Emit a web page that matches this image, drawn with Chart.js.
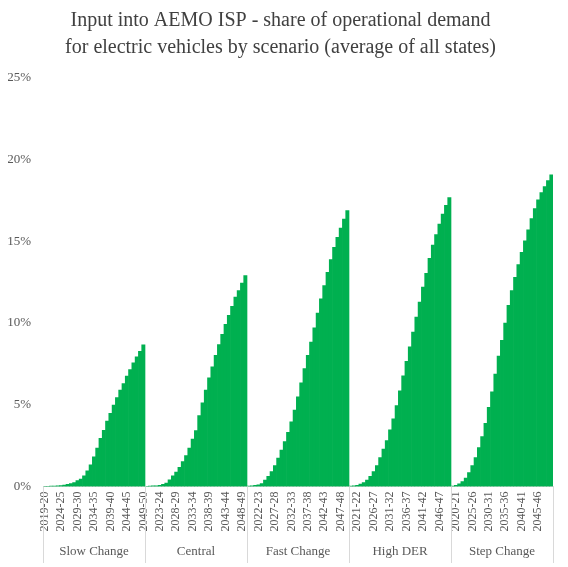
<!DOCTYPE html>
<html>
<head>
<meta charset="utf-8">
<script src="https://cdn.jsdelivr.net/npm/chart.js@4.4.1/dist/chart.umd.min.js"></script>
<style>
  html, body { margin: 0; padding: 0; background: #fff; }
  #wrap { width: 568px; height: 567px; position: relative; }
</style>
</head>
<body>
<div id="wrap"><canvas id="chart"></canvas></div>
<script>
// scenario names (outer category)
var scenarios = ['Slow Change', 'Central', 'Fast Change', 'High DER', 'Step Change'];

// financial years (inner category)
var years = ['2019-20', '2020-21', '2021-22', '2022-23', '2023-24', '2024-25', '2025-26', '2026-27',
  '2027-28', '2028-29', '2029-30', '2030-31', '2031-32', '2032-33', '2033-34', '2034-35', '2035-36',
  '2036-37', '2037-38', '2038-39', '2039-40', '2040-41', '2041-42', '2042-43', '2043-44', '2044-45',
  '2045-46', '2046-47', '2047-48', '2048-49', '2049-50'];

// EV share of operational demand, %
var slowChange = [0.01, 0.01, 0.02, 0.02, 0.03, 0.05, 0.08, 0.12, 0.18, 0.24, 0.35, 0.45, 0.65, 0.96, 1.32,
  1.81, 2.34, 2.95, 3.43, 4.0, 4.47, 4.98, 5.43, 5.89, 6.3, 6.75, 7.15, 7.56, 7.93, 8.27, 8.66];
var central = [0.01, 0.02, 0.03, 0.04, 0.06, 0.12, 0.2, 0.4, 0.65, 0.87, 1.16, 1.52, 1.89, 2.34, 2.89,
  3.41, 4.33, 5.12, 5.89, 6.65, 7.32, 8.03, 8.68, 9.31, 9.92, 10.47, 11.02, 11.59, 11.99, 12.44, 12.9];
var fastChange = [0.02, 0.03, 0.06, 0.1, 0.18, 0.39, 0.61, 0.91, 1.28, 1.73, 2.22, 2.74, 3.31, 3.96, 4.67,
  5.49, 6.34, 7.22, 8.03, 8.84, 9.7, 10.61, 11.48, 12.3, 13.11, 13.88, 14.63, 15.24, 15.81, 16.36, 16.88];
var highDER = [0.02, 0.03, 0.06, 0.14, 0.24, 0.39, 0.61, 0.91, 1.28, 1.77, 2.28, 2.8, 3.46, 4.13, 4.94,
  5.85, 6.77, 7.66, 8.54, 9.45, 10.37, 11.28, 12.2, 13.05, 13.96, 14.78, 15.41, 16.06, 16.67, 17.2, 17.68];
var stepChange = [0.02, 0.06, 0.16, 0.3, 0.51, 0.85, 1.28, 1.77, 2.38, 3.05, 3.86, 4.84, 5.79, 6.87, 7.97,
  8.94, 10.0, 11.08, 11.99, 12.8, 13.58, 14.33, 15.04, 15.71, 16.4, 17.01, 17.54, 17.99, 18.35, 18.72, 19.08];

var yTicks = [0, 5, 10, 15, 20, 25];

var series = [slowChange, central, fastChange, highDER, stepChange];

// flatten into one long category axis, same as the excel multi-level axis
var labels = [];
var values = [];
for (let s in series) {
  for (let i in years) {
    labels.push(years[i]);
    values.push(series[s][i]);
  }
}

Chart.defaults.font.family = "'Liberation Serif', 'DejaVu Serif', serif";
Chart.defaults.color = '#595959';

// vertical lines between the scenario groups
var groupLines = {
  id: 'groupLines',
  afterDraw(chart) {
    const x = chart.scales.x;
    const ctx = chart.ctx;
    const step = x.getPixelForValue(1) - x.getPixelForValue(0);
    ctx.save();
    ctx.strokeStyle = '#d9d9d9';
    ctx.lineWidth = 1;
    for (let g = 0; g <= scenarios.length; g++) {
      let px = Math.round(x.getPixelForValue(g * years.length) - step / 2) + 0.5;
      ctx.beginPath();
      ctx.moveTo(px, chart.chartArea.bottom);
      ctx.lineTo(px, chart.height - 4);
      ctx.stroke();
    }
    ctx.restore();
  }
};

// no side padding for the bottom axes, the labels fit inside the plot width
function noSidePadding(axis) {
  axis.paddingLeft = 0;
  axis.paddingRight = 0;
}

var dgm = document.getElementById('chart');

var config = {
  type: 'bar',
  data: {
    labels: labels,
    datasets: [{
      label: 'EV share',
      data: values,
      backgroundColor: '#00B050',
      borderWidth: 0,
      barPercentage: 1,
      categoryPercentage: 1
    }]
  },
  options: {
    responsive: true,
    maintainAspectRatio: false,
    animation: false,
    layout: {
      padding: { left: 8, right: 15, top: 0, bottom: 1 }
    },
    scales: {
      x: {
        offset: true,
        grid: { display: false, drawTicks: false },
        border: { display: true, color: '#d9d9d9', width: 1 },
        afterFit: noSidePadding,
        ticks: {
          autoSkip: false,
          minRotation: 90,
          maxRotation: 90,
          padding: 5,
          font: { size: 12 },
          callback: function (v, i) {
            return i % 5 === 0 ? this.getLabelForValue(v) : null;
          }
        }
      },
      x2: {
        type: 'category',
        position: 'bottom',
        labels: scenarios,
        offset: true,
        grid: { display: false, drawTicks: false },
        border: { display: false },
        afterFit: noSidePadding,
        ticks: { padding: 7, font: { size: 13 } }
      },
      y: {
        min: 0,
        max: 25,
        grid: { display: false, drawTicks: false },
        border: { display: false },
        // chart.js counts the tick padding twice, keep the axis narrow
        afterFit: function (axis) {
          axis.width = 35;
        },
        afterBuildTicks: function (axis) {
          axis.ticks = yTicks.map(v => ({ value: v }));
        },
        ticks: {
          padding: 12,
          font: { size: 13 },
          callback: v => v + '%'
        }
      }
    },
    plugins: {
      legend: { display: false },
      tooltip: { enabled: false },
      title: {
        display: true,
        text: ['Input into AEMO ISP - share of operational demand',
               'for electric vehicles by scenario (average of all states)'],
        color: '#404040',
        font: { size: 20, weight: 'normal', lineHeight: 1.35 },
        padding: { top: 7, bottom: 17 }
      }
    }
  },
  plugins: [groupLines]
};

var barChart = new Chart(dgm, config);
</script>
</body>
</html>
